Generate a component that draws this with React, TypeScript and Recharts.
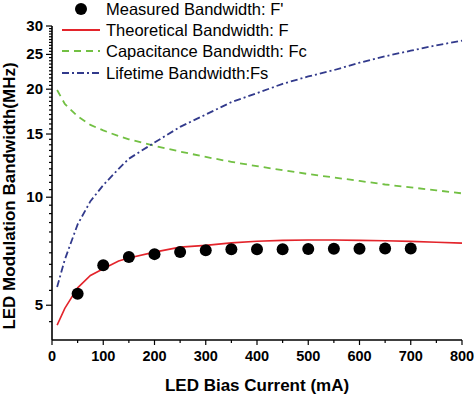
import React from 'react'
import { ComposedChart, Line, XAxis, YAxis, Legend } from 'recharts'

// bias current (mA) sample points
const current = [10, 25, 50, 75, 100, 130, 150, 200, 250, 300, 350, 400, 450, 500, 550, 600, 650, 700, 750, 800]
// measured F' (null where not measured)
const measured = [null, null, 5.38, null, 6.46, null, 6.81, 6.94, 7.04, 7.12, 7.16, 7.16, 7.16, 7.17, 7.18, 7.18, 7.2, 7.2, null, null]
const theoretical = [4.4, 4.9, 5.59, 6.05, 6.32, 6.64, 6.77, 7.03, 7.26, 7.34, 7.46, 7.54, 7.58, 7.6, 7.6, 7.58, 7.56, 7.53, 7.49, 7.45]
const capacitance = [19.9, 18.2, 16.8, 15.9, 15.35, 14.8, 14.5, 13.9, 13.4, 12.95, 12.55, 12.2, 11.9, 11.6, 11.35, 11.1, 10.85, 10.65, 10.45, 10.25]
const lifetime = [5.62, 6.7, 8.4, 9.75, 10.8, 12.0, 12.8, 14.2, 15.7, 17.0, 18.4, 19.5, 20.7, 21.7, 22.6, 23.7, 24.7, 25.6, 26.5, 27.3]

const xTicks = [0, 50, 100, 150, 200, 250, 300, 350, 400, 450, 500, 550, 600, 650, 700, 750, 800]
const xMajor = [0, 100, 200, 300, 400, 500, 600, 700, 800]
const yMajor = [5, 10, 15, 20, 25, 30]
const yTicks: number[] = []
for (let i = 9; i <= 60; i++) yTicks.push(i / 2)

const FONT = 'Arial, "Liberation Sans", sans-serif'
const RED = '#e3242b'
const GREEN = '#72c043'
const BLUE = '#323a8c'

const data = current.map((x, i) => ({
  x,
  meas: measured[i],
  theo: theoretical[i],
  cap: capacitance[i],
  life: lifetime[i],
}))

function YTick({ x, y, payload }: any) {
  const major = yMajor.includes(payload.value)
  return (
    <g>
      <line x1={x} x2={x - (major ? 6 : 3)} y1={y} y2={y} stroke="#000" strokeWidth={1.2} />
      {major && (
        <text x={x - 9} y={y + 5} textAnchor="end" fontSize={15} fontWeight="bold" fontFamily={FONT} fill="#000">
          {payload.value}
        </text>
      )}
    </g>
  )
}

function XTick({ x, y, payload }: any) {
  const major = xMajor.includes(payload.value)
  return (
    <g>
      <line x1={x} x2={x} y1={y} y2={y + (major ? 5 : 3)} stroke="#000" strokeWidth={1.2} />
      {major && (
        <text x={x} y={y + 21} textAnchor="middle" fontSize={14.5} fontWeight="bold" fontFamily={FONT} fill="#000">
          {payload.value}
        </text>
      )}
    </g>
  )
}

const legendItems = [
  { name: "Measured Bandwidth: F'", kind: 'dot' },
  { name: 'Theoretical Bandwidth: F', kind: 'line', color: RED, dash: undefined },
  { name: 'Capacitance Bandwidth: Fc', kind: 'line', color: GREEN, dash: '7 5' },
  { name: 'Lifetime Bandwidth:Fs', kind: 'line', color: BLUE, dash: '7 3 2 3' },
]

function renderLegend() {
  return (
    <div style={{ fontFamily: FONT, fontSize: 16.5, lineHeight: '18px', color: '#000' }}>
      {legendItems.map((item) => (
        <div key={item.name} style={{ display: 'flex', alignItems: 'center', height: 21.3, whiteSpace: 'nowrap' }}>
          <svg width={46} height={14} style={{ flex: 'none' }}>
            {item.kind === 'dot' ? (
              <circle cx={21} cy={7} r={6} fill="#000" />
            ) : (
              <line x1={2} x2={40} y1={7} y2={7} stroke={item.color} strokeWidth={2} strokeDasharray={item.dash} />
            )}
          </svg>
          <span>{item.name}</span>
        </div>
      ))}
    </div>
  )
}

export default function App() {
  return (
    <div style={{ position: 'absolute', left: 0, top: 0, width: 474, height: 394, background: '#fff' }}>
      <ComposedChart width={474} height={394} data={data} margin={{ top: 26, right: 12, left: 0, bottom: 0 }}>
        <XAxis
          dataKey="x"
          type="number"
          domain={[0, 800]}
          ticks={xTicks}
          interval={0}
          height={54}
          tickSize={0}
          tickMargin={0}
          tickLine={false}
          tick={<XTick />}
          axisLine={{ stroke: '#000', strokeWidth: 1.6 }}
          label={{
            content: (props: any) => {
              const vb = props.viewBox
              return (
                <text x={vb.x + vb.width / 2} y={391} textAnchor="middle" fontSize={17} fontWeight="bold" fontFamily={FONT} fill="#000">
                  LED Bias Current (mA)
                </text>
              )
            },
          }}
        />
        <YAxis
          type="number"
          scale="log"
          domain={[4, 30]}
          allowDataOverflow
          ticks={yTicks}
          interval={0}
          width={52}
          tickSize={0}
          tickMargin={0}
          tickLine={false}
          tick={<YTick />}
          axisLine={{ stroke: '#000', strokeWidth: 1.6 }}
          label={{
            content: () => (
              <text x={15} y={196} transform="rotate(-90 15 196)" textAnchor="middle" fontSize={17} fontWeight="bold" fontFamily={FONT} fill="#000">
                LED Modulation Bandwidth(MHz)
              </text>
            ),
          }}
        />
        <Legend
          layout="vertical"
          align="center"
          verticalAlign="middle"
          content={renderLegend}
          wrapperStyle={{ top: -2, left: 60, width: 300 }}
        />
        <Line dataKey="meas" stroke="none" isAnimationActive={false} dot={{ r: 6, fill: '#000', stroke: 'none' }} activeDot={false} />
        <Line dataKey="cap" type="linear" stroke={GREEN} strokeWidth={1.8} strokeDasharray="7 5" dot={false} isAnimationActive={false} />
        <Line dataKey="life" type="linear" stroke={BLUE} strokeWidth={1.8} strokeDasharray="7 3 2 3" dot={false} isAnimationActive={false} />
        <Line dataKey="theo" type="linear" stroke={RED} strokeWidth={1.6} dot={false} isAnimationActive={false} />
      </ComposedChart>
    </div>
  )
}
